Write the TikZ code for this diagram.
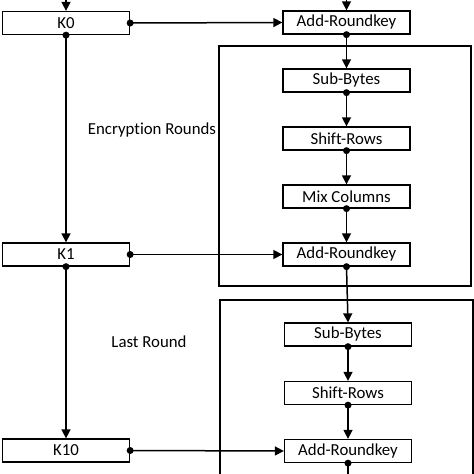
\documentclass[tikz,border=0pt]{standalone}
\usepackage{fontspec}
\setmainfont[Ligatures=NoCommon]{Carlito}
\usetikzlibrary{arrows.meta}
\begin{document}
\begin{tikzpicture}[x=1pt,y=-1pt,
  blk/.style={draw,line width=1.3pt,minimum width=127pt,minimum height=23pt,inner sep=0pt,font=\fontsize{16.8}{19}\selectfont},
  lbl/.style={font=\fontsize{16.8}{19}\selectfont,inner sep=0pt},
  conn/.style={line width=1.5pt,-{Triangle[length=9pt,width=9pt]}},
  frame/.style={draw,line width=1.3pt},
  dot/.style={circle,fill,inner sep=0pt,minimum size=7pt}]
\useasboundingbox (0,0) rectangle (474,474);
% frames
\draw[frame] (219,46) rectangle (471,286);
\draw[frame] (220,300) rectangle (473,490);
% key column
\node[blk] (k0) at (66,23) {K0};
\node[blk] (k1) at (66,254.5) {K1};
\node[blk] (k10) at (66,450.5) {K10};
% data column
\node[blk] (ar1) at (346.5,22.5) {Add-Roundkey};
\node[blk] (sb1) at (346.5,80.5) {Sub-Bytes};
\node[blk] (sr1) at (346.5,138.5) {Shift-Rows};
\node[blk] (mc1) at (346.5,196.5) {Mix Columns};
\node[blk] (ar2) at (346.5,254.5) {Add-Roundkey};
\node[blk] (sb2) at (348,334.5) {Sub-Bytes};
\node[blk] (sr2) at (348,393) {Shift-Rows};
\node[blk] (ar3) at (348,451) {Add-Roundkey};
% labels
\node[lbl] (enc) at (152,130) {Encryption Rounds};
\node[lbl] (last) at (149,342) {Last Round};
% free ends
\coordinate (tk) at (66,0);
\coordinate (td) at (346.5,0);
\coordinate (bd) at (348,480);
% connectors
\draw[conn] (tk) -- (k0.north);
\draw[conn] (td) -- (ar1.north);
\draw[conn] (k0.east) -- (ar1.west);
\draw[conn] (k0.south) -- (k1.north);
\draw[conn] (k1.east) -- (ar2.west);
\draw[conn] (k1.south) -- (k10.north);
\draw[conn] (k10.east) -- (ar3.west);
\draw[conn] (ar1.south) -- (sb1.north);
\draw[conn] (sb1.south) -- (sr1.north);
\draw[conn] (sr1.south) -- (mc1.north);
\draw[conn] (mc1.south) -- (ar2.north);
\draw[conn] (ar2.south) -- (sb2.north);
\draw[conn] (sb2.south) -- (sr2.north);
\draw[conn] (sr2.south) -- (ar3.north);
\draw[line width=1.5pt] (ar3.south) -- (bd);
% dots
\foreach \p in {k0.east,k0.south,k1.east,k1.south,k10.east,ar1.south,sb1.south,sr1.south,mc1.south,ar2.south,sb2.south,sr2.south,ar3.south}
  \node[dot] at (\p) {};
\end{tikzpicture}
\end{document}
